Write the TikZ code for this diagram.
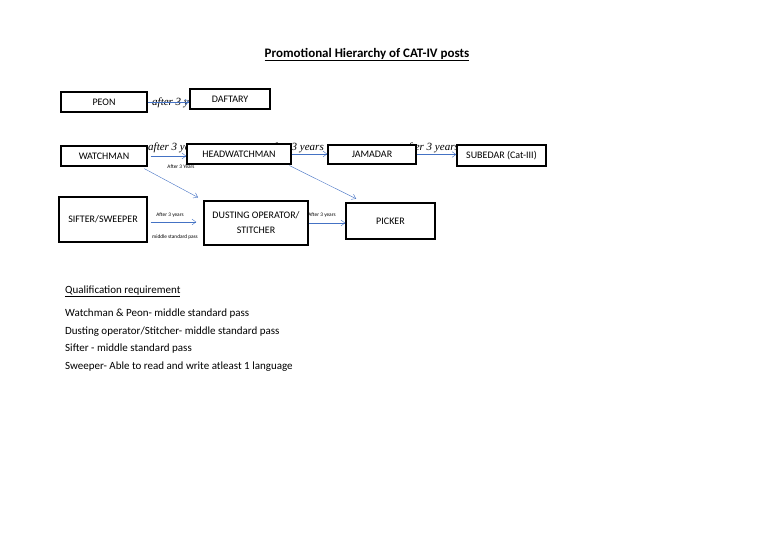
\documentclass[tikz,border=0pt]{standalone}
\usepackage{fontspec}
\setmainfont{Carlito}
\newfontfamily\labelfont{Liberation Serif}
\usepackage{tikz}
\usetikzlibrary{arrows.meta}
\definecolor{arrowblue}{RGB}{68,114,196}
\pgfdeclarelayer{bg}
\pgfsetlayers{bg,main}

\begin{document}
\begin{tikzpicture}[x=1pt,y=-1pt,
    post/.style={draw,line width=1.4pt,fill=white,inner sep=0pt,font=\fontsize{10}{15}\selectfont,align=center},
    arr/.style={arrowblue,thin,-{Straight Barb[length=1.4mm,width=2mm]}},
    yrs/.style={font=\labelfont\itshape\fontsize{11}{11}\selectfont,inner sep=0pt},
    tiny/.style={font=\fontsize{5.3}{5.3}\selectfont,inner sep=0pt},
    qual/.style={anchor=base west,inner sep=0pt,font=\fontsize{11}{11}\selectfont}]
  \useasboundingbox (0,0) rectangle (768,543);

  % title
  \node[anchor=base,inner sep=0pt,font=\bfseries\fontsize{13}{13}\selectfont] (title) at (367,57) {\underline{Promotional Hierarchy of CAT-IV posts}};

  % posts
  \node[post,minimum width=86pt,minimum height=20pt] (peon) at (104,102) {PEON};
  \node[post,minimum width=80pt,minimum height=20pt] (daftary) at (230,99) {DAFTARY};
  \node[post,minimum width=86pt,minimum height=20pt] (watchman) at (104,156) {WATCHMAN};
  \node[post,minimum width=104pt,minimum height=20pt] (headwatchman) at (239,154) {HEADWATCHMAN};
  \node[post,minimum width=88pt,minimum height=19pt] (jamadar) at (372,154.5) {JAMADAR};
  \node[post,minimum width=89pt,minimum height=21pt] (subedar) at (501.5,155.5) {SUBEDAR (Cat-III)};
  \node[post,minimum width=88pt,minimum height=45pt] (sifter) at (103,219.5) {SIFTER/SWEEPER};
  \node[post,minimum width=104pt,minimum height=44pt] (dusting) at (256,223) {DUSTING OPERATOR/\\STITCHER};
  \node[post,minimum width=89pt,minimum height=36pt] (picker) at (390.5,221) {PICKER};

  % labels behind the boxes
  \begin{pgfonlayer}{bg}
    \node[yrs,anchor=west] (yrsA) at (152,102.5) {after 3 years};
    \node[yrs,anchor=west] (yrsB) at (148,148) {after 3 years};
    \node[yrs,anchor=east] (yrsC) at (324,148) {after 3 years};
    \node[yrs,anchor=east] (yrsD) at (459,147.5) {after 3 years};
  \end{pgfonlayer}
  \node[tiny] (tinyA) at (181,167) {After 3 Years};
  \node[tiny] (tinyB) at (170,215) {After 3 years};
  \node[tiny] (tinyC) at (175,237) {middle standard pass};
  \node[tiny] (tinyD) at (322,215) {After 3 years};

  % promotions
  \draw[arr] (peon.east) -- (peon.east -| daftary.west);
  \draw[arr,shorten <=3pt] (watchman.east) -- (watchman.east -| headwatchman.west);
  \foreach \a/\b in {headwatchman/jamadar,jamadar/subedar,dusting/picker} {
    \draw[arr] (\a.east) -- (\a.east -| \b.west);
  }
  \draw[arr,shorten <=3pt,shorten >=7pt] ([yshift=-2.5pt]sifter.east) -- ([yshift=-2.5pt]sifter.east -| dusting.west);
  \draw[arr,shorten <=4pt,shorten >=6pt] ([xshift=-7pt]watchman.south east) -- (dusting.north west);
  \draw[arr,shorten <=2pt,shorten >=8pt] ([xshift=-4pt]headwatchman.south east) -- ([xshift=18pt]picker.north west);

  % qualifications
  \node[qual] (qhead) at (65,293) {\underline{Qualification requirement}};
  \node[qual] (q1) at (65,316) {Watchman \& Peon- middle standard pass};
  \node[qual] (q2) at (65,334) {Dusting operator/Stitcher- middle standard pass};
  \node[qual] (q3) at (65,351.5) {Sifter - middle standard pass};
  \node[qual] (q4) at (65,369) {Sweeper- Able to read and write atleast 1 language};
\end{tikzpicture}
\end{document}
